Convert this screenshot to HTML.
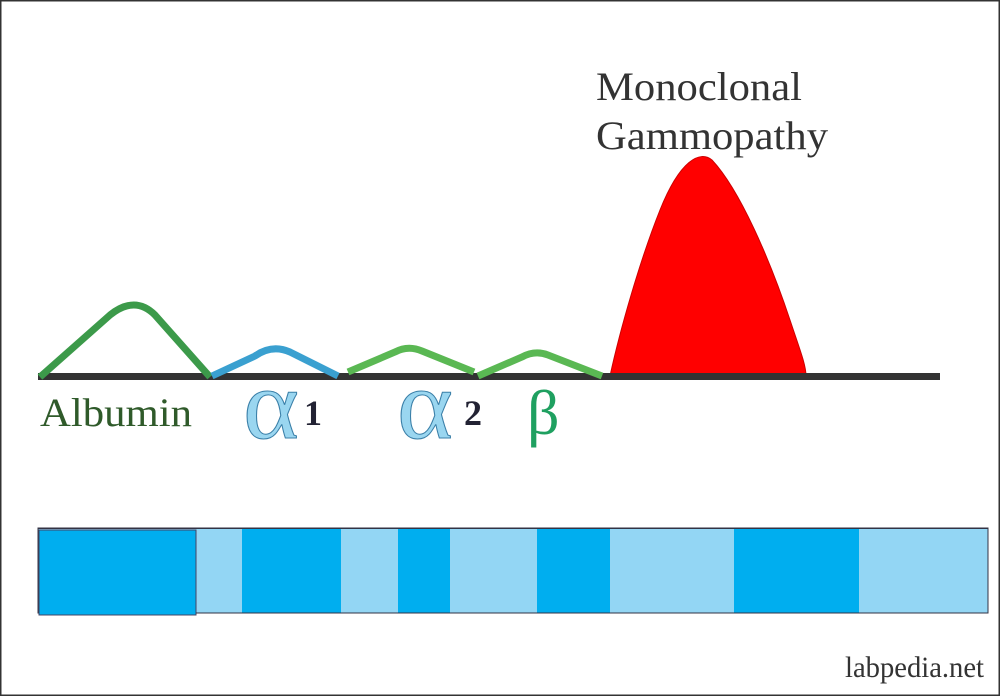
<!DOCTYPE html>
<html><head><style>body{margin:0;background:#fff}svg{display:block}</style></head><body>
<svg width="1000" height="696" viewBox="0 0 1000 696" xmlns="http://www.w3.org/2000/svg">
<rect x="0.5" y="0.5" width="999" height="695" fill="#fff" stroke="#333" stroke-width="2"/>
<path d="M610,376 C620,330 640,260 660,210 C680,160 700,150 712,160 C740,190 770,260 790,320 C800,350 806,365 806,376 Z" fill="#ff0000" stroke="#c00" stroke-width="1"/>
<rect x="38" y="373" width="902" height="7" fill="#333"/>
<path d="M40,377 L110,315 Q135,295 155,315 L210,377" fill="none" stroke="#3c9a4a" stroke-width="7"/>
<path d="M212,376 L255,356 Q272,344 290,352 L338,376" fill="none" stroke="#3aa0d0" stroke-width="7"/>
<path d="M348,372 L395,352 Q408,345 422,351 L474,372" fill="none" stroke="#5ab853" stroke-width="7"/>
<path d="M478,376 L522,357 Q535,350 548,355 L602,376" fill="none" stroke="#5ab853" stroke-width="7"/>
<text x="40" y="426" font-family="Liberation Serif, serif" font-size="40" fill="#2f5a2a" textLength="152" lengthAdjust="spacingAndGlyphs">Albumin</text>
<text x="243" y="438" font-family="Liberation Serif, serif" font-size="100" fill="#9ad6f0" stroke="#3a7fa8" stroke-width="1" textLength="56" lengthAdjust="spacingAndGlyphs">α</text>
<text x="304" y="425" font-family="Liberation Serif, serif" font-size="36" font-weight="bold" fill="#223">1</text>
<text x="397" y="438" font-family="Liberation Serif, serif" font-size="100" fill="#9ad6f0" stroke="#3a7fa8" stroke-width="1" textLength="56" lengthAdjust="spacingAndGlyphs">α</text>
<text x="464" y="425" font-family="Liberation Serif, serif" font-size="36" font-weight="bold" fill="#223">2</text>
<text x="527" y="434" font-family="Liberation Serif, serif" font-size="64" fill="#1fa060">β</text>
<text x="596" y="100" font-family="Liberation Serif, serif" font-size="40" fill="#333" textLength="206" lengthAdjust="spacingAndGlyphs">Monoclonal</text>
<text x="596" y="149" font-family="Liberation Serif, serif" font-size="40" fill="#333" textLength="232" lengthAdjust="spacingAndGlyphs">Gammopathy</text>
<rect x="38" y="528" width="950" height="85" fill="#93d6f4" stroke="#334" stroke-width="1"/>
<rect x="39" y="530" width="157" height="85" fill="#00aeef" stroke="#446" stroke-width="1"/>
<rect x="242" y="528" width="99" height="85" fill="#00aeef"/>
<rect x="398" y="528" width="52" height="85" fill="#00aeef"/>
<rect x="537" y="528" width="73" height="85" fill="#00aeef"/>
<rect x="734" y="528" width="125" height="85" fill="#00aeef"/>
<line x1="38" y1="528.5" x2="988" y2="528.5" stroke="#334" stroke-width="1"/>
<line x1="196" y1="613" x2="988" y2="613" stroke="#334" stroke-width="1"/>
<text x="845" y="677" font-family="Liberation Serif, serif" font-size="30" fill="#333" textLength="139" lengthAdjust="spacingAndGlyphs">labpedia.net</text>
</svg>
</body></html>
